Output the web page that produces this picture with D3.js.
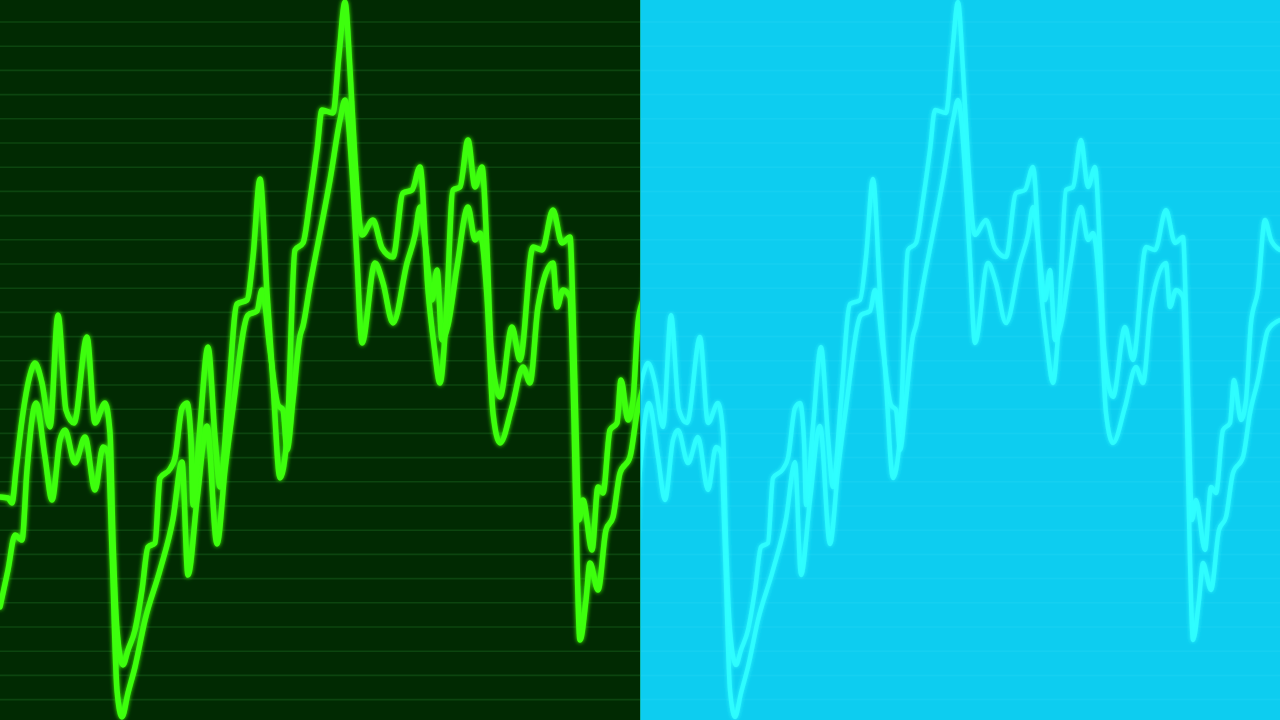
<!DOCTYPE html>
<html>
<head>
<meta charset="utf-8">
<script src="https://cdn.jsdelivr.net/npm/d3@7/dist/d3.min.js"></script>
<style>
  html, body { margin: 0; padding: 0; background: #000; }
  svg { display: block; }
</style>
</head>
<body>
<svg id="chart" width="1280" height="720"></svg>
<script>
// ---- Data (signal level, 0 = bottom, 720 = top) ----
const upperT = [0, 8, 12, 16, 22, 30, 35, 42, 50, 58, 66, 74, 87, 95, 105, 110, 113, 117, 123, 128, 135, 142, 148, 155, 160, 170, 175, 182, 187, 191, 193, 200, 208, 215, 220, 228, 237, 247, 253, 260, 267, 273, 280, 287, 295, 303, 310, 317, 322, 333, 339, 345, 350, 355, 362, 373, 382, 393, 403, 412, 420, 428, 434, 440, 446, 453, 460, 468, 475, 482, 487, 491, 500, 512, 520, 533, 542, 553, 562, 570, 573, 576, 579, 583, 592, 598, 603, 610, 617, 621, 628, 633, 638, 645, 652, 658, 667];
const upperV = [223, 222, 217, 250, 300, 345, 357, 337, 293, 405, 310, 297, 383, 297, 317, 287, 180, 90, 55, 70, 90, 130, 173, 177, 242, 251, 262, 312, 317, 280, 215, 294, 373, 283, 233, 319, 416, 420, 463, 541, 427, 337, 242, 283, 470, 477, 520, 570, 610, 607, 665, 718, 650, 560, 485, 500, 472, 463, 527, 530, 553, 430, 375, 337, 400, 530, 533, 580, 533, 553, 470, 373, 323, 393, 360, 473, 470, 510, 477, 483, 407, 290, 200, 220, 170, 233, 227, 290, 297, 340, 300, 320, 397, 430, 500, 480, 470];

const lowerT = [0, 8, 15, 22, 27, 36, 45, 52, 60, 65, 75, 85, 95, 103, 108, 112, 117, 122, 128, 135, 145, 160, 173, 182, 188, 197, 207, 217, 225, 233, 248, 257, 262, 270, 278, 283, 287, 293, 300, 303, 310, 320, 330, 340, 345, 352, 357, 362, 375, 383, 393, 407, 415, 420, 426, 432, 437, 442, 448, 457, 468, 475, 480, 487, 493, 500, 512, 523, 530, 538, 553, 557, 563, 570, 574, 577, 580, 586, 590, 598, 606, 613, 620, 630, 637, 645, 655, 667];
const lowerV = [113, 150, 185, 180, 250, 317, 263, 220, 280, 290, 257, 283, 230, 273, 267, 170, 30, 3, 27, 53, 100, 150, 201, 258, 145, 220, 294, 176, 250, 312, 405, 409, 430, 370, 315, 310, 270, 320, 384, 394, 435, 487, 540, 600, 620, 550, 460, 377, 457, 437, 397, 457, 485, 513, 470, 420, 450, 380, 395, 453, 513, 480, 487, 423, 307, 277, 313, 353, 337, 413, 457, 413, 430, 423, 300, 160, 80, 120, 157, 130, 190, 203, 247, 263, 307, 340, 390, 400];

const gridLevels = d3.range(0, 29).map(k => 698 - k * 24.2);

// ---- Setup ----
const W = 1280, H = 720, half = 640, shift = 613;
const svg = d3.select("#chart");
const x = d3.scaleLinear().domain([0, 640]).range([0, 640]);
const y = d3.scaleLinear().domain([0, 720]).range([720, 0]);

const defs = svg.append("defs");
const glow = defs.append("filter").attr("id", "glow")
  .attr("x", "-10%").attr("y", "-10%").attr("width", "120%").attr("height", "120%");
glow.append("feGaussianBlur").attr("stdDeviation", 2.2).attr("result", "b");
const fm = glow.append("feMerge");
fm.append("feMergeNode").attr("in", "b");
fm.append("feMergeNode").attr("in", "SourceGraphic");

defs.append("clipPath").attr("id", "clipL").append("rect")
  .attr("x", 0).attr("y", 0).attr("width", half).attr("height", H);
defs.append("clipPath").attr("id", "clipR").append("rect")
  .attr("x", half).attr("y", 0).attr("width", W - half).attr("height", H);

const upper = upperT.map((t, i) => [t, upperV[i]]);
const lower = lowerT.map((t, i) => [t, lowerV[i]]);

const line = d3.line()
  .x(d => x(d[0]))
  .y(d => y(d[1]))
  .curve(d3.curveMonotoneX);

// ---- Left panel ----
const L = svg.append("g").attr("clip-path", "url(#clipL)");
L.append("rect").attr("x", 0).attr("y", 0).attr("width", half).attr("height", H).attr("fill", "#012a02");
L.selectAll("line.grid").data(gridLevels).join("line")
  .attr("class", "grid")
  .attr("x1", 0).attr("x2", half)
  .attr("y1", d => y(d)).attr("y2", d => y(d))
  .attr("stroke", "#0f4a12").attr("stroke-width", 1.6).attr("opacity", 0.85);
const Lg = L.append("g").attr("filter", "url(#glow)");
[lower, upper].forEach(s => {
  Lg.append("path").datum(s).attr("d", line)
    .attr("fill", "none").attr("stroke", "#3cff10")
    .attr("stroke-width", 5.5).attr("stroke-linejoin", "round").attr("stroke-linecap", "round");
});

// ---- Right panel ----
const R = svg.append("g").attr("clip-path", "url(#clipR)");
R.append("rect").attr("x", half).attr("y", 0).attr("width", W - half).attr("height", H).attr("fill", "#0dcdf0");
R.selectAll("line.grid").data(gridLevels).join("line")
  .attr("class", "grid")
  .attr("x1", half).attr("x2", W)
  .attr("y1", d => y(d)).attr("y2", d => y(d))
  .attr("stroke", "#3ee0f7").attr("stroke-width", 1.5).attr("opacity", 0.18);
const Rg = R.append("g").attr("transform", `translate(${shift},0)`).attr("filter", "url(#glow)");
[lower, upper].forEach(s => {
  Rg.append("path").datum(s).attr("d", line)
    .attr("fill", "none").attr("stroke", "#30ffff").attr("opacity", 0.85)
    .attr("stroke-width", 4.5).attr("stroke-linejoin", "round").attr("stroke-linecap", "round");
});
svg.append("line").attr("x1", half + 0.5).attr("x2", half + 0.5).attr("y1", 0).attr("y2", H)
  .attr("stroke", "#14b8b0").attr("stroke-width", 1);
</script>
</body>
</html>
